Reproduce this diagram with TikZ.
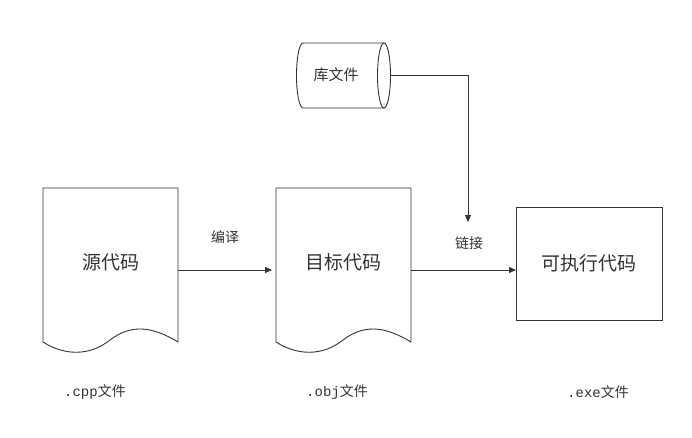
\documentclass[tikz,border=0pt]{standalone}
\usepackage{fontspec}
\setmainfont{Noto Sans CJK SC}
\newfontfamily\monof{Liberation Mono}
\usetikzlibrary{calc,arrows.meta}
\definecolor{ink}{HTML}{333333}
\tikzset{
  shp/.style={draw=ink,line width=0.9pt},
  box/.style={minimum width=#1,inner sep=0pt,outer sep=0pt},
  conn/.style={draw=ink,line width=0.9pt,-{Triangle[length=7pt,width=6pt]}},
  big/.style={text=ink,font=\fontsize{19}{21}\selectfont},
  small/.style={text=ink,font=\fontsize{14}{16}\selectfont},
}
\begin{document}
\begin{tikzpicture}[x=1pt,y=-1pt]
\useasboundingbox (0,0) rectangle (692,438);
% document 1
\node[box=135pt,minimum height=154pt] (d1) at (110.5,265) {};
\draw[shp] (43,342) -- (43,188) -- (178,188) -- (178,342)
  .. controls (150,325) and (130,325) .. (110,340)
  .. controls (90,356) and (65,356) .. (43,342);
\node[big] at (110.5,262) {源代码};
% document 2
\node[box=135pt,minimum height=154pt] (d2) at (343.5,265) {};
\draw[shp] (276,342) -- (276,188) -- (411,188) -- (411,342)
  .. controls (383,325) and (363,325) .. (343,340)
  .. controls (323,356) and (298,356) .. (276,342);
\node[big] at (343.5,262) {目标代码};
% exe
\node[shp,box=146pt,minimum height=113pt,big] (exe) at (589,263.5) {可执行代码};
% cylinder
\node[box=93pt,minimum height=65pt] (lib) at (343.5,75.5) {};
\draw[shp] (384,43) -- (303,43) arc[start angle=270,end angle=90,x radius=6.5,y radius=32.5] -- (384,108);
\draw[shp] (384,75.5) ellipse[x radius=6.5,y radius=32.5];
\node[small,font=\fontsize{15}{17}\selectfont] at (336,75) {库文件};
% connectors
\coordinate (l1) at (468,222);
\draw[conn] (lib.east) -| (l1);
\draw[conn] ($(d1.east)+(0,5)$) -- ($(d2.west)+(-4,5)$);
\draw[conn] ($(d2.east)+(0,5)$) -- (exe.west |- {$(d2.east)+(0,5)$});
\node[small] at (225,237) {编译};
\node[small] at (469,243) {链接};
\node[small] at (95,392) {{\monof .cpp}文件};
\node[small] at (337,392) {{\monof .obj}文件};
\node[small] at (598,392) {{\monof .exe}文件};
\end{tikzpicture}
\end{document}
